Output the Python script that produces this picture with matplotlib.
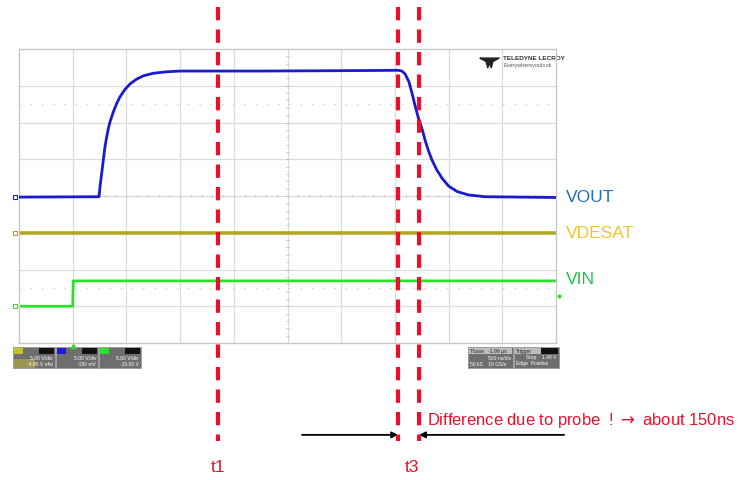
import numpy as np
import matplotlib
matplotlib.use("Agg")
import matplotlib.pyplot as plt
from matplotlib.patches import Rectangle
from matplotlib.path import Path

plt.rcParams["font.family"] = ["Liberation Sans", "DejaVu Sans"]

# scope traces, in divisions (x: 0..10, y: 0..8 from bottom)
vout_x = [0, 1.490, 1.508, 1.540, 1.570, 1.601, 1.633, 1.664, 1.695, 1.757, 1.819, 1.881,
          1.974, 2.067, 2.191, 2.315, 2.501, 2.750, 2.998, 4.5, 6.0, 7.07,
          7.13, 7.19, 7.26, 7.32, 7.38, 7.44, 7.51, 7.57, 7.63, 7.69, 7.78, 7.88,
          8.00, 8.16, 8.37, 8.68, 10.0]
vout_y = [3.97, 3.98, 4.25, 4.62, 4.98, 5.34, 5.61, 5.84, 6.02, 6.29, 6.52, 6.70,
          6.90, 7.05, 7.18, 7.27, 7.34, 7.38, 7.40, 7.40, 7.41, 7.42,
          7.40, 7.32, 7.11, 6.79, 6.43, 6.11, 5.80, 5.48, 5.21, 4.98, 4.71, 4.48,
          4.27, 4.12, 4.03, 3.98, 3.96]
vdesat_x = [0, 10]
vdesat_y = [2.99, 2.99]
vin_x = [0, 1.0, 1.01, 10]
vin_y = [1.0, 1.0, 1.69, 1.69]

cursor_t1 = 3.71
cursor_t3 = [7.06, 7.45]

labels = ["VOUT", "VDESAT", "VIN"]
label_y = [3.97, 2.99, 1.72]
label_colors = ["#1f6db5", "#f4c430", "#1fbf4f"]
trace_colors = ["#1a1ad2", "#b0a824", "#2ee02e"]

note = "Difference due to probe  ! $\\rightarrow$ about 150ns"

left_boxes = [("C1", "#c8c030", "5.00 V/div", "-4.95 V ofst"),
              ("C2", "#1a1ae0", "5.00 V/div", "-150 mV"),
              ("C4", "#30e030", "5.00 V/div", "-15.00 V")]
right_boxes = [("Tbase   -1.99 \u00b5s", "500 ns/div", "50 kS    10 GS/s"),
               ("Trigger", "Stop    1.40 V", "Edge  Positive")]

W, H = 744, 480
fig = plt.figure(figsize=(W / 100, H / 100), dpi=100)

# pixel overlay for the scope chrome
ov = fig.add_axes([0, 0, 1, 1])
ov.set_xlim(0, W)
ov.set_ylim(H, 0)
ov.axis("off")

# scope grid area
gx0, gx1, gy0, gy1 = 19, 556, 49, 343
ax = fig.add_axes([gx0 / W, 1 - gy1 / H, (gx1 - gx0) / W, (gy1 - gy0) / H])
ax.set_xlim(0, 10)
ax.set_ylim(0, 8)
ax.set_xticks([])
ax.set_yticks([])
for s in ax.spines.values():
    s.set_color("#c8c8c8")
    s.set_linewidth(1)
ax.patch.set_alpha(0)

for xv in range(1, 10):
    ax.axvline(xv, color="#dcdcdc", lw=0.9, zorder=0)
for yv in range(1, 8):
    ax.axhline(yv, color="#dcdcdc", lw=0.9, zorder=0)
for yv in [6.5, 1.5]:
    ax.axhline(yv, color="#c8c8c8", lw=0.9, ls=(0, (1, 8)), zorder=0)
# center tick marks
for xm in np.arange(0, 10.01, 0.2):
    ax.plot([xm, xm], [3.96, 4.04], color="#c4c4c4", lw=0.6, zorder=0)
for ym in np.arange(0, 8.01, 0.2):
    ax.plot([4.98, 5.02], [ym, ym], color="#c4c4c4", lw=0.6, zorder=0)

ax.plot(vdesat_x, vdesat_y, color=trace_colors[1], lw=2.6, zorder=2)
ax.plot(vin_x, vin_y, color=trace_colors[2], lw=2.0, zorder=2)
ax.plot(vout_x, vout_y, color=trace_colors[0], lw=2.0, zorder=3, solid_joinstyle="round")

# channel markers at left edge
for yv, c in zip([vout_y[0], vdesat_y[0], vin_y[0]], trace_colors):
    ax.plot([-0.07], [yv], marker="s", ms=3, mfc="none", mec=c, mew=0.8, clip_on=False)
ax.plot([10.05], [1.27], marker="o", ms=2, color=trace_colors[2], clip_on=False)
ax.plot([1.0], [-0.08], marker="^", ms=3, color=trace_colors[2], clip_on=False)

# cursors
red = "#e8102a"
for xc in [cursor_t1] + cursor_t3:
    ax.plot([xc, xc], [9.14, -2.68], color=red, lw=3, ls=(0, (3.2, 2.2)),
            clip_on=False, zorder=5)
ax.text(cursor_t1, -3.4, "t1", color=red, fontsize=12.5, ha="center", va="center")
ax.text(sum(cursor_t3) / 2 + 0.06, -3.4, "t3", color=red, fontsize=12.5,
        ha="center", va="center")

# arrows
ax.annotate("", xy=(cursor_t3[0], -2.5), xytext=(5.27, -2.5),
            arrowprops=dict(arrowstyle="-|>", color="black", lw=1.3,
                            mutation_scale=9, shrinkA=0, shrinkB=0),
            annotation_clip=False)
ax.annotate("", xy=(cursor_t3[1], -2.5), xytext=(10.15, -2.5),
            arrowprops=dict(arrowstyle="-|>", color="black", lw=1.3,
                            mutation_scale=9, shrinkA=0, shrinkB=0),
            annotation_clip=False)
ax.text(7.6, -2.1, note, color=red, fontsize=11.9, ha="left", va="center")

# trace labels
for lab, yv, c in zip(labels, label_y, label_colors):
    ax.text(10.18, yv, lab, color=c, fontsize=12.5, ha="left", va="center")

# logo
logo = Path([(-1, 0.35), (1, 0.35), (0.35, 0.0), (0.18, -0.65), (0, -0.15),
             (-0.18, -0.65), (-0.35, 0.0), (-1, 0.35)])
ov.plot([489], [61], marker=logo, ms=14, color="#222222")
ov.text(503, 58, "TELEDYNE LECROY", fontsize=4.6, fontweight="bold", color="#333333",
        ha="left", va="center")
ov.text(503, 65, "Everywhereyoulook", fontsize=4, color="#555555", ha="left", va="center")

# channel info boxes
bx = 13
for name, c, l1, l2 in left_boxes:
    ov.add_patch(Rectangle((bx, 347), 42, 21, facecolor="#6e6e70", edgecolor="#999999", lw=0.6))
    ov.add_patch(Rectangle((bx + 1, 348), 9, 6, facecolor=c, lw=0))
    ov.add_patch(Rectangle((bx + 26, 348), 15, 6, facecolor="#111111", lw=0))
    ov.text(bx + 40, 358, l1, fontsize=3.6, color="white", ha="right", va="center")
    ov.text(bx + 40, 364, l2, fontsize=3.6, color="white", ha="right", va="center")
    bx += 43
ov.add_patch(Rectangle((13, 359), 22, 9, facecolor="#b8b040", alpha=0.6, lw=0))

bx = 468
for t1, l1, l2 in right_boxes:
    ov.add_patch(Rectangle((bx, 347), 45, 21, facecolor="#6e6e70", edgecolor="#999999", lw=0.6))
    ov.add_patch(Rectangle((bx + 1, 348), 43, 6, facecolor="#bdbdbd", lw=0))
    ov.text(bx + 2, 351, t1, fontsize=3.6, color="#222222", ha="left", va="center")
    ov.text(bx + 43, 358, l1, fontsize=3.6, color="white", ha="right", va="center")
    ov.text(bx + 2, 364, l2, fontsize=3.6, color="white", ha="left", va="center")
    bx += 46
ov.add_patch(Rectangle((541, 348), 17, 6, facecolor="#111111", lw=0))

fig.savefig("out.png", dpi=100)
